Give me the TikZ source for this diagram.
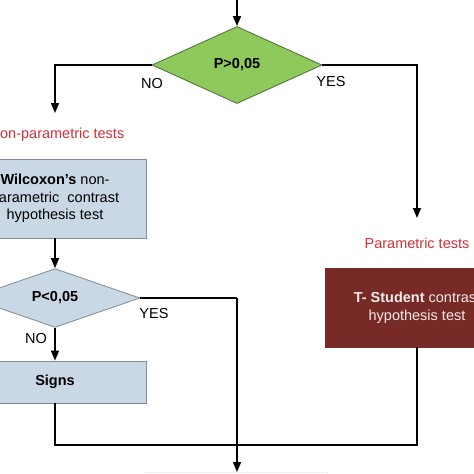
\documentclass[tikz,border=0pt]{standalone}
\usepackage{fontspec}
\setmainfont{Liberation Sans}
\usetikzlibrary{arrows.meta,shapes.geometric}
\definecolor{gfill}{HTML}{8DC95B}
\definecolor{gdraw}{HTML}{4E6B3A}
\definecolor{bfill}{HTML}{CAD7E4}
\definecolor{bdraw}{HTML}{7F8B96}
\definecolor{rfill}{HTML}{782A26}
\definecolor{rtext}{HTML}{D22F3B}
\definecolor{ltext}{HTML}{F2ECEC}
\begin{document}
\begin{tikzpicture}[x=1pt,y=-1pt,
  every node/.style={font=\fontsize{14.5}{17.5}\selectfont},
  conn/.style={line width=1.4pt,black},
  arr/.style={conn,-{Triangle[length=10pt,width=8pt]}},
  greendia/.style={diamond,draw=gdraw,line width=0.8pt,fill=gfill,inner sep=0pt,minimum width=170pt,minimum height=77pt,font=\fontsize{14.5}{17.5}\selectfont\bfseries},
  bluedia/.style={diamond,draw=bdraw,line width=0.8pt,fill=bfill,inner sep=0pt,minimum width=170pt,minimum height=57pt,font=\fontsize{14.5}{17.5}\selectfont\bfseries},
  bluebox/.style={rectangle,draw=bdraw,line width=0.8pt,fill=bfill,inner sep=0pt,minimum width=182pt,align=center},
  redbox/.style={rectangle,draw=rfill,fill=rfill,inner sep=0pt,minimum width=184pt,minimum height=79pt,align=center,text=ltext},
  redlabel/.style={text=rtext,inner sep=0pt},
  lbl/.style={inner sep=0pt}]
\useasboundingbox (0,0) rectangle (474,474);
\fill[white] (0,0) rectangle (474,474);
% faint bottom box edge
\draw[gray!12,line width=0.8pt] (145,480) -- (145,472) -- (327,472) -- (327,480);
% nodes
\node[greendia] (d1) at (237,65) {P>0,05};
\node[redlabel] (np) at (57,135) {Non-parametric tests};
\node[redlabel] (pt) at (417,243) {Parametric tests};
\node[bluebox,minimum height=79pt] (wil) at (55,198.5) {\textbf{Wilcoxon\symbol{"0027}s} non-\\parametric\ \ contrast\\hypothesis test};
\node[bluedia] (d2) at (55,298) {P<0,05};
\node[bluebox,minimum height=42pt,font=\fontsize{14.5}{17.5}\selectfont\bfseries] (signs) at (55,382) {Signs};
\node[redbox] (ts) at (417,307.5) {\textbf{T- Student} contrast\\hypothesis test};
% labels
\node[lbl] (no1) at (152,84) {NO};
\node[lbl] (yes1) at (331,82) {YES};
\node[lbl] (yes2) at (154,314) {YES};
\node[lbl] (no2) at (36,339) {NO};
% coordinates
\coordinate (top) at (237,0);
\coordinate (a1) at (55,113);
\coordinate (a2) at (417,218);
\coordinate (j1) at (237,298);
\coordinate (j2) at (237,445);
\coordinate (bot) at (237,472);
% connectors
\draw[arr] (top) -- (d1.north);
\draw[arr] (d1.west) -| (a1);
\draw[arr] (d1.east) -| (a2);
\draw[arr] (wil.south) -- (d2.north);
\draw[arr] (d2.south) -- (signs.north);
\draw[conn] (d2.east) -- (j1);
\draw[arr] (j1) -- (bot);
\draw[conn] (signs.south) |- (j2);
\draw[conn] (ts.south) |- (j2);
\end{tikzpicture}
\end{document}
